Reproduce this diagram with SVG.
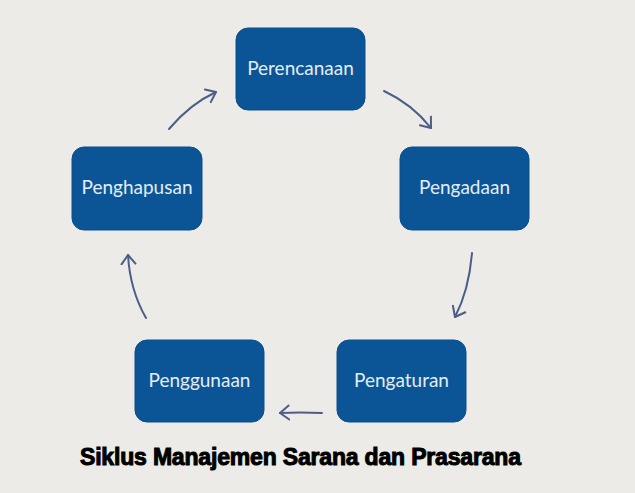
<svg xmlns="http://www.w3.org/2000/svg" width="635" height="493" viewBox="0 0 635 493">
<style>
.box{fill:#0b5596;stroke:#0a4f8c;stroke-width:1}
.lbl{font-family:Lato,"Open Sans","Liberation Sans",sans-serif;font-size:19px;fill:#e3edf7;text-anchor:middle}
.arr{fill:none;stroke:#4c5d88;stroke-width:2;stroke-linecap:round;marker-end:url(#ah)}
.cap{font-family:"Liberation Sans",Arial,sans-serif;font-weight:bold;font-size:23px;fill:#000;stroke:#000;stroke-width:1}
</style>
<defs>
<marker id="ah" markerUnits="userSpaceOnUse" markerWidth="20" markerHeight="20" refX="10" refY="10" orient="auto" viewBox="0 0 20 20">
<path d="M1,3 L10,10 L1,17" fill="none" stroke="#4c5d88" stroke-width="2" stroke-linecap="round" stroke-linejoin="round"/>
</marker>
</defs>
<rect width="635" height="493" fill="#edebe8"/>
<g id="connectors">
<path class="arr" d="M384,91 Q412,104 431,128"/>
<path class="arr" d="M472,253 Q469,290 455,317"/>
<path class="arr" d="M322,413 Q300,412 280,413"/>
<path class="arr" d="M146,318 Q130,290 128,255"/>
<path class="arr" d="M169,129 Q190,104 216,92"/>
</g>
<g id="node-perencanaan">
<rect class="box" x="236" y="28" width="129" height="82" rx="12"/>
<text class="lbl" x="300.5" y="75">Perencanaan</text>
</g>
<g id="node-pengadaan">
<rect class="box" x="400" y="147" width="129" height="83" rx="12"/>
<text class="lbl" x="464.5" y="194">Pengadaan</text>
</g>
<g id="node-pengaturan">
<rect class="box" x="337" y="340" width="129" height="82" rx="12"/>
<text class="lbl" x="401.5" y="387">Pengaturan</text>
</g>
<g id="node-penggunaan">
<rect class="box" x="135" y="340" width="129" height="82" rx="12"/>
<text class="lbl" x="199.5" y="387">Penggunaan</text>
</g>
<g id="node-penghapusan">
<rect class="box" x="72" y="147" width="130" height="83" rx="12"/>
<text class="lbl" x="137" y="194">Penghapusan</text>
</g>
<text class="cap" x="80" y="465" textLength="441" lengthAdjust="spacing">Siklus Manajemen Sarana dan Prasarana</text>
</svg>
